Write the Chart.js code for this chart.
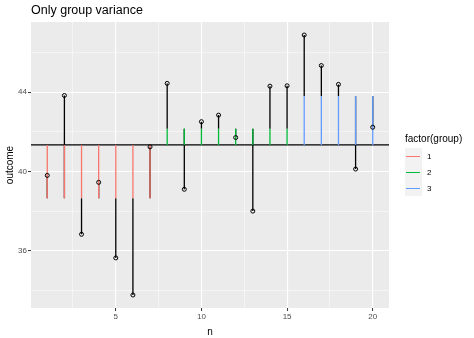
<!DOCTYPE html>
<html>
<head>
<meta charset="utf-8">
<script src="https://cdn.jsdelivr.net/npm/chart.js@4.4.0/dist/chart.umd.min.js"></script>
<style>
    body { margin: 0; background: #fff; font-family: "Liberation Sans", Arial, sans-serif; }
    #wrap { position: relative; width: 474px; height: 338px; }
    #titulo { position: absolute; left: 31px; top: 3px; font-size: 12.5px; line-height: 14px; color: #000; }
    #legenda { position: absolute; left: 405px; top: 132px; }
    #legenda .tit { font-size: 10px; line-height: 14px; color: #000; margin-bottom: 2px; }
    #legenda .item { display: flex; align-items: center; height: 16px; }
    #legenda .chave { flex: 0 0 17px; width: 17px; height: 16px; background: #F2F2F2; position: relative; }
    #legenda .chave span { position: absolute; left: 1px; right: 2px; top: 8px; height: 1px; }
    #legenda .rot { font-size: 8px; color: #000; margin-left: 5px; white-space: nowrap; }
</style>
</head>
<body>
<div id="wrap">
    <canvas id="grafico" width="474" height="338"></canvas>
    <div id="titulo">Only group variance</div>
    <div id="legenda"></div>
</div>
<script>
// Dados
const n = [1, 2, 3, 4, 5, 6, 7, 8, 9, 10, 11, 12, 13, 14, 15, 16, 17, 18, 19, 20];
const grupo = [1, 1, 1, 1, 1, 1, 1, 2, 2, 2, 2, 2, 2, 2, 2, 3, 3, 3, 3, 3];
const outcome = [39.80, 43.83, 36.83, 39.45, 35.64, 33.77, 41.24,
                 44.44, 39.10, 42.51, 42.84, 41.71, 38.00, 44.30, 44.32,
                 46.88, 45.34, 44.39, 40.12, 42.23];
const nomesGrupo = ["1", "2", "3"];
const coresGrupo = ["#F8766D", "#00BA38", "#619CFF"];

const yTicks = [34, 36, 38, 40, 42, 44, 46];
const yRotulos = [36, 40, 44];
const xTicks = [2.5, 5, 7.5, 10, 12.5, 15, 17.5, 20];
const xRotulos = [5, 10, 15, 20];

const fonte = "'Liberation Sans', Arial, sans-serif";

// --- médias ---
const mediaGeral = outcome.reduce((a, b) => a + b, 0) / outcome.length;
const mediaGrupo = nomesGrupo.map((g, gi) => {
    const vals = outcome.filter((v, i) => grupo[i] === gi + 1);
    return vals.reduce((a, b) => a + b, 0) / vals.length;
});

// limites com expansão de 5% (como no ggplot)
const xMin = Math.min(...n) - 0.05 * (Math.max(...n) - Math.min(...n));
const xMax = Math.max(...n) + 0.05 * (Math.max(...n) - Math.min(...n));
const yMin = Math.min(...outcome) - 0.05 * (Math.max(...outcome) - Math.min(...outcome));
const yMax = Math.max(...outcome) + 0.05 * (Math.max(...outcome) - Math.min(...outcome));

// segmentos pretos: média do grupo -> observação
const residuos = [];
n.forEach((x, i) => {
    residuos.push({ x: x, y: mediaGrupo[grupo[i] - 1] }, { x: x, y: outcome[i] }, { x: x, y: null });
});

// segmentos coloridos: média geral -> média do grupo
const segmentosGrupo = nomesGrupo.map((g, gi) => {
    const pts = [];
    n.forEach((x, i) => {
        if (grupo[i] === gi + 1) pts.push({ x: x, y: mediaGeral }, { x: x, y: mediaGrupo[gi] }, { x: x, y: null });
    });
    return pts;
});

const pontos = n.map((x, i) => ({ x: x, y: outcome[i] }));

// fundo cinza do painel
const fundoPainel = {
    id: "fundoPainel",
    beforeDraw(chart) {
        const { ctx, chartArea: a } = chart;
        ctx.save();
        ctx.fillStyle = "#EBEBEB";
        ctx.fillRect(a.left, a.top, a.right - a.left, a.bottom - a.top);
        ctx.restore();
    }
};

const datasets = [
    { label: "pontos", data: pontos, order: 0, pointRadius: 2, pointBorderColor: "#000",
      pointBackgroundColor: "rgba(0,0,0,0)", pointBorderWidth: 1 }
];
segmentosGrupo.forEach((seg, gi) => {
    datasets.push({ type: "line", label: nomesGrupo[gi], data: seg, order: 1, borderColor: coresGrupo[gi],
        borderWidth: 1.3, pointRadius: 0, spanGaps: false, tension: 0 });
});
datasets.push({ type: "line", label: "residuos", data: residuos, order: 2, borderColor: "#000",
    borderWidth: 1.3, pointRadius: 0, spanGaps: false, tension: 0 });
datasets.push({ type: "line", label: "media", data: [{ x: xMin, y: mediaGeral }, { x: xMax, y: mediaGeral }],
    order: 3, borderColor: "#000", borderWidth: 1.3, pointRadius: 0 });

new Chart(document.getElementById("grafico"), {
    type: "scatter",
    data: { datasets },
    options: {
        responsive: false,
        animation: false,
        devicePixelRatio: 1,
        layout: { padding: { left: 0, top: 22, right: 85, bottom: 0 } },
        plugins: { legend: { display: false }, tooltip: { enabled: false } },
        scales: {
            x: {
                type: "linear", min: xMin, max: xMax,
                afterBuildTicks: s => { s.ticks = xTicks.map(v => ({ value: v })); },
                afterFit: s => { s.height = 30; },
                border: { display: false },
                grid: {
                    color: "#fff",
                    lineWidth: c => xRotulos.includes(c.tick && c.tick.value) ? 1.1 : 0.5,
                    tickLength: 3,
                    tickWidth: 1,
                    tickColor: c => xRotulos.includes(c.tick && c.tick.value) ? "#333" : "rgba(0,0,0,0)"
                },
                ticks: {
                    callback: v => xRotulos.includes(v) ? String(v) : "",
                    color: "#4D4D4D", font: { size: 8, family: fonte }, padding: 1,
                    maxRotation: 0, autoSkip: false
                },
                title: { display: true, text: "n", color: "#000", font: { size: 10, family: fonte }, padding: { top: 0, bottom: 0 } }
            },
            y: {
                type: "linear", min: yMin, max: yMax,
                afterBuildTicks: s => { s.ticks = yTicks.map(v => ({ value: v })); },
                afterFit: s => { s.width = 31; },
                border: { display: false },
                grid: {
                    color: "#fff",
                    lineWidth: c => yRotulos.includes(c.tick && c.tick.value) ? 1.1 : 0.5,
                    tickLength: 3,
                    tickWidth: 1,
                    tickColor: c => yRotulos.includes(c.tick && c.tick.value) ? "#333" : "rgba(0,0,0,0)"
                },
                ticks: {
                    callback: v => yRotulos.includes(v) ? String(v) : "",
                    color: "#4D4D4D", font: { size: 8, family: fonte }, padding: 1, autoSkip: false
                },
                title: { display: true, text: "outcome", color: "#000", font: { size: 10, family: fonte }, padding: { top: 4, bottom: 0 } }
            }
        }
    },
    plugins: [fundoPainel]
});

// --- legenda ---
const legenda = document.getElementById("legenda");
legenda.innerHTML = '<div class="tit">factor(group)</div>' + nomesGrupo.map((g, gi) =>
    `<div class="item"><div class="chave"><span style="background:${coresGrupo[gi]}"></span></div><div class="rot">${g}</div></div>`
).join("");
</script>
</body>
</html>
